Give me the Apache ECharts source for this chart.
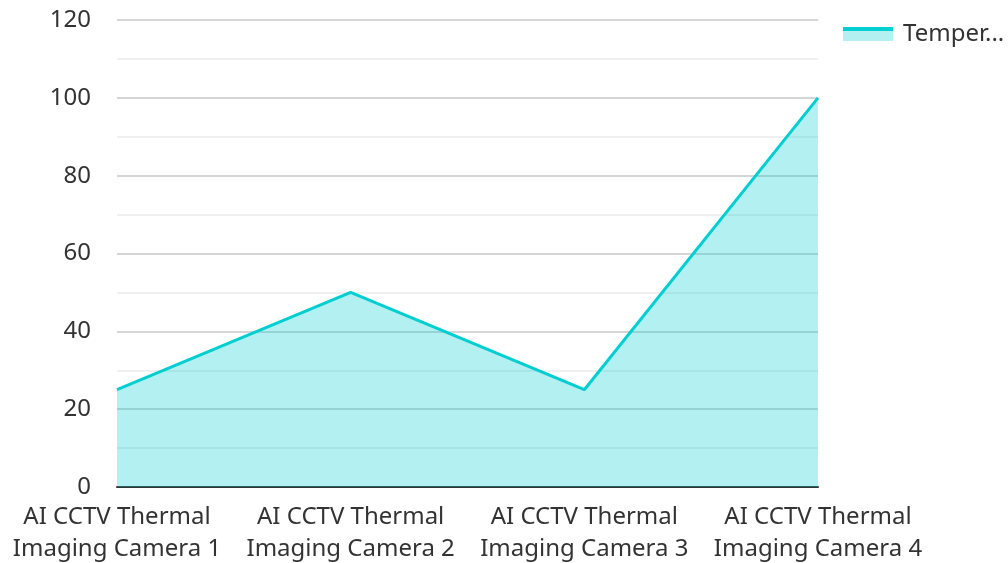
<!DOCTYPE html>
<html>
<head>
<meta charset="utf-8">
<script src="https://cdn.jsdelivr.net/npm/echarts@6/dist/echarts.min.js"></script>
<style>
  html, body { margin: 0; padding: 0; background: #fff; }
  #chart { width: 1008px; height: 563px; }
</style>
</head>
<body>
<div id="chart"></div>
<script>
const categories = [
  'AI CCTV Thermal\nImaging Camera 1',
  'AI CCTV Thermal\nImaging Camera 2',
  'AI CCTV Thermal\nImaging Camera 3',
  'AI CCTV Thermal\nImaging Camera 4'
];
const seriesName = 'Temperature';
const temperatureValues = [25, 50, 25, 100];

const lineColor = '#00CED1';
const areaColor = '#b2f0f1';

const chart = echarts.init(document.getElementById('chart'));
chart.setOption({
  animation: false,
  textStyle: { fontFamily: 'Noto Sans' },
  legend: {
    left: 843,
    top: 22,
    padding: 0,
    itemWidth: 50,
    itemHeight: 14,
    itemGap: 10,
    textStyle: {
      fontSize: 24, color: '#333', width: 114, overflow: 'truncate',
      padding: [0, 0, 0, 5]
    },
    data: [{
      name: seriesName,
      icon: 'rect',
      itemStyle: {
        color: {
          type: 'linear', x: 0, y: 0, x2: 0, y2: 1,
          colorStops: [
            { offset: 0, color: lineColor },
            { offset: 0.28, color: lineColor },
            { offset: 0.28, color: areaColor },
            { offset: 1, color: areaColor }
          ]
        }
      }
    }]
  },
  grid: { left: 117, right: 190, top: 20, bottom: 76, outerBoundsMode: 'none' },
  xAxis: {
    type: 'category',
    boundaryGap: false,
    data: categories,
    axisLine: { lineStyle: { color: '#333', width: 2 } },
    axisTick: { show: false },
    axisLabel: { interval: 0, fontSize: 24, color: '#333', lineHeight: 32, margin: 14 }
  },
  yAxis: {
    type: 'value',
    min: 0,
    max: 120,
    interval: 20,
    axisLine: { show: false },
    axisTick: { show: false },
    axisLabel: { fontSize: 24, color: '#333', margin: 26 },
    splitLine: { lineStyle: { color: '#c8c8c8', width: 1.5 } },
    minorTick: { show: false, splitNumber: 2 },
    minorSplitLine: { show: true, lineStyle: { color: '#ebebeb', width: 1.5 } }
  },
  series: [{
    name: seriesName,
    type: 'line',
    data: temperatureValues,
    showSymbol: false,
    lineStyle: { color: lineColor, width: 3 },
    itemStyle: { color: lineColor },
    areaStyle: { color: lineColor, opacity: 0.3 }
  }]
});
</script>
</body>
</html>
